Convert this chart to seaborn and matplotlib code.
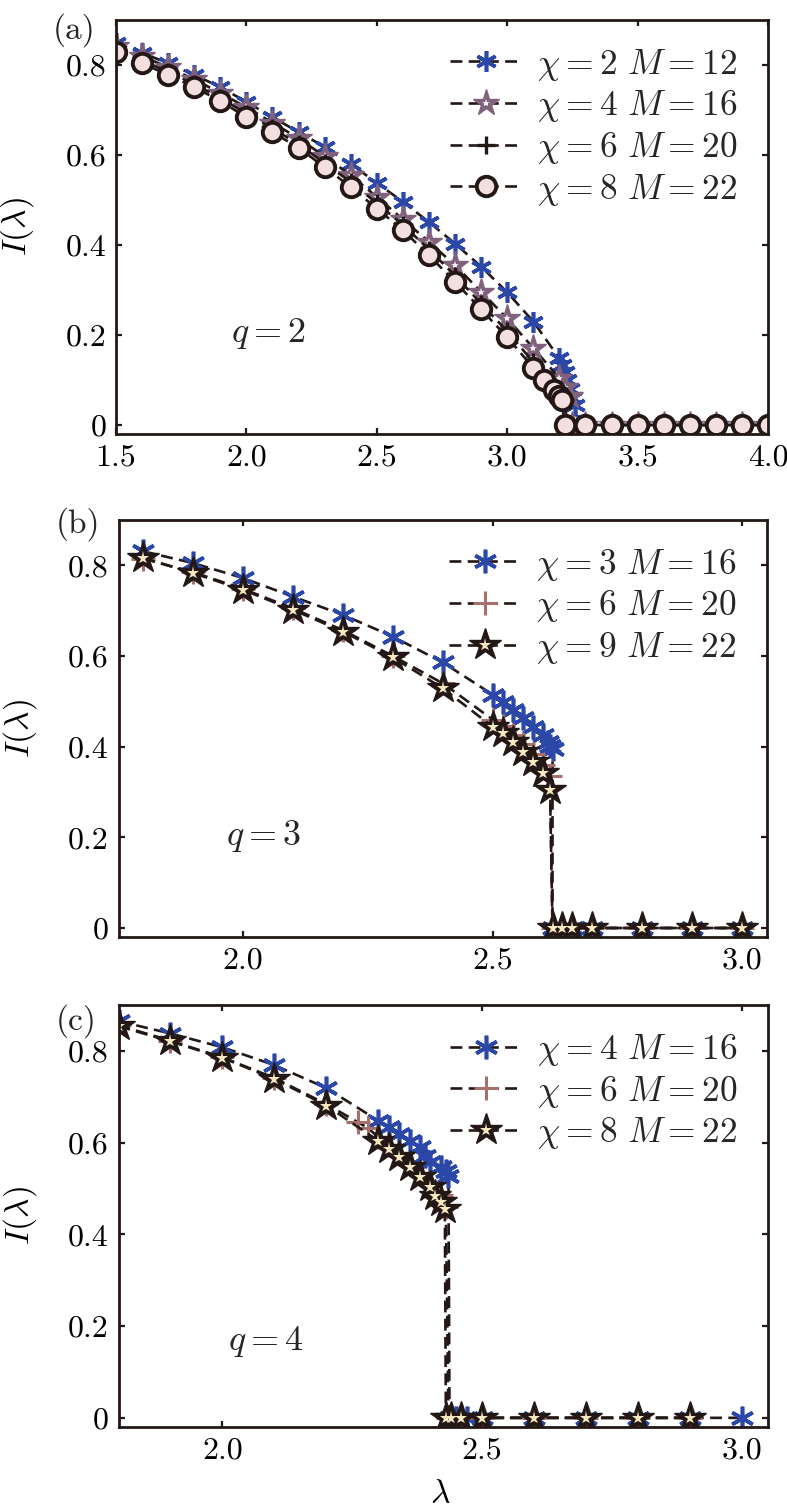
import numpy as np
import pandas as pd
import matplotlib
matplotlib.use("Agg")
import matplotlib.pyplot as plt
from matplotlib.legend_handler import HandlerTuple
import seaborn as sns

# ---------------- data ----------------
# panel (a), q = 2
lam_a = [1.5, 1.6, 1.7, 1.8, 1.9, 2.0, 2.1, 2.2, 2.3, 2.4, 2.5, 2.6, 2.7, 2.8, 2.9, 3.0, 3.1]
zero_a = [3.3, 3.4, 3.5, 3.6, 3.7, 3.8, 3.9, 4.0]

a_chi2_x = lam_a + [3.2, 3.21, 3.22, 3.23, 3.24, 3.25, 3.26, 3.27] + zero_a
a_chi2_y = [0.849, 0.827, 0.804, 0.778, 0.751, 0.718, 0.684, 0.651, 0.618, 0.580,
            0.538, 0.496, 0.451, 0.403, 0.352, 0.295, 0.230,
            0.148, 0.133, 0.118, 0.100, 0.080, 0.060, 0.045, 0.0] + [0.0] * 8

a_chi4_x = lam_a + [3.2, 3.22, 3.24, 3.25] + zero_a
a_chi4_y = [0.842, 0.820, 0.795, 0.768, 0.738, 0.706, 0.672, 0.637, 0.597, 0.555,
            0.507, 0.457, 0.407, 0.355, 0.296, 0.237, 0.171,
            0.104, 0.085, 0.065, 0.0] + [0.0] * 8

a_chi6_x = lam_a + [3.15, 3.18, 3.2, 3.22, 3.23] + zero_a
a_chi6_y = [0.835, 0.810, 0.785, 0.757, 0.727, 0.692, 0.659, 0.624, 0.582, 0.540,
            0.493, 0.445, 0.390, 0.332, 0.270, 0.208, 0.140,
            0.105, 0.085, 0.070, 0.055, 0.0] + [0.0] * 8

a_chi8_x = lam_a + [3.14, 3.18, 3.2, 3.21, 3.22] + zero_a
a_chi8_y = [0.829, 0.804, 0.778, 0.751, 0.720, 0.684, 0.651, 0.616, 0.573, 0.529,
            0.481, 0.433, 0.377, 0.318, 0.257, 0.195, 0.127,
            0.100, 0.078, 0.064, 0.055, 0.0] + [0.0] * 8

# panel (b), q = 3
lam_b = [1.8, 1.9, 2.0, 2.1, 2.2, 2.3, 2.4]
zero_b = [2.62, 2.64, 2.66, 2.7, 2.8, 2.9, 3.0]

b_chi3_x = lam_b + [2.5, 2.52, 2.54, 2.56, 2.58, 2.6, 2.61, 2.615, 2.62] + [2.62, 2.64, 2.66, 2.7, 2.8, 2.9, 3.0]
b_chi3_y = [0.831, 0.805, 0.772, 0.731, 0.691, 0.643, 0.586,
            0.515, 0.499, 0.482, 0.464, 0.444, 0.425, 0.410, 0.402, 0.395] + [0.0] * 7

b_chi6_x = lam_b + [2.5, 2.52, 2.54, 2.56, 2.58, 2.6, 2.615] + zero_b
b_chi6_y = [0.815, 0.785, 0.748, 0.705, 0.657, 0.600, 0.540,
            0.460, 0.445, 0.425, 0.405, 0.385, 0.360, 0.335] + [0.0] * 7

b_chi9_x = lam_b + [2.5, 2.52, 2.54, 2.56, 2.58, 2.6, 2.615] + zero_b
b_chi9_y = [0.816, 0.783, 0.746, 0.702, 0.654, 0.597, 0.529,
            0.444, 0.431, 0.411, 0.389, 0.367, 0.343, 0.305] + [0.0] * 7

# panel (c), q = 4
lam_c = [1.8, 1.9, 2.0, 2.1, 2.2]

c_chi4_x = lam_c + [2.3, 2.32, 2.34, 2.36, 2.38, 2.39, 2.4, 2.42, 2.43, 2.435] + \
    [2.437, 2.44, 2.45, 2.47, 2.5, 2.6, 2.7, 2.8, 2.9, 3.0]
c_chi4_y = [0.865, 0.838, 0.808, 0.769, 0.719,
            0.648, 0.635, 0.619, 0.604, 0.591, 0.571, 0.558, 0.547, 0.538, 0.527] + [0.0] * 10

c_chi6_x = lam_c + [2.26, 2.28, 2.3, 2.32, 2.34, 2.36, 2.38, 2.4, 2.42, 2.43] + \
    [2.435, 2.44, 2.46, 2.5, 2.6, 2.7, 2.8, 2.9]
c_chi6_y = [0.856, 0.822, 0.786, 0.741, 0.684,
            0.645, 0.632, 0.612, 0.595, 0.575, 0.555, 0.533, 0.510, 0.485, 0.460] + [0.0] * 8

c_chi8_x = lam_c + [2.3, 2.32, 2.34, 2.36, 2.38, 2.4, 2.41, 2.42, 2.428] + \
    [2.43, 2.44, 2.46, 2.5, 2.6, 2.7, 2.8, 2.9]
c_chi8_y = [0.854, 0.821, 0.785, 0.739, 0.681,
            0.604, 0.586, 0.568, 0.546, 0.525, 0.503, 0.484, 0.470, 0.455] + [0.0] * 8

# ---------------- style ----------------
sns.set_theme(style="ticks")
plt.rcParams["font.family"] = ["cmr10", "DejaVu Serif"]
plt.rcParams["mathtext.fontset"] = "cm"
plt.rcParams["axes.formatter.use_mathtext"] = True

DARK = "#231815"
BLUE = "#2b48a8"
MAUVE = "#80627d"
ROSE = "#a8706c"
PINK = "#f3dfdf"
CREAM = "#f8e8c0"

asterisk = (6, 2, 0)
line_kw = dict(color=DARK, linestyle=(0, (4.5, 2.4)), linewidth=1.9)

fig = plt.figure(figsize=(7.87, 15.08), dpi=100)
ax_a = fig.add_axes([0.1474, 0.7122, 0.8285, 0.2745])
ax_b = fig.add_axes([0.1506, 0.3786, 0.8240, 0.2765])
ax_c = fig.add_axes([0.1506, 0.0537, 0.8253, 0.2798])


def draw(ax, x, y, **mk):
    df = pd.DataFrame({"lam": x, "I": y})
    sns.lineplot(data=df, x="lam", y="I", ax=ax, estimator=None, sort=False,
                 **line_kw, **mk)
    return ax.lines[-1]


def draw_star(ax, x, y, body, core, size, core_size):
    # filled star with a small light star in its centre
    h1 = draw(ax, x, y, marker="*", ms=size, mec=body, mfc=body, mew=1.0)
    df = pd.DataFrame({"lam": x, "I": y})
    sns.lineplot(data=df, x="lam", y="I", ax=ax, estimator=None, sort=False,
                 linestyle="", marker="*", ms=core_size, mfc=core, mec=core, mew=0)
    return (h1, ax.lines[-1])


# (a)
ha = [draw(ax_a, a_chi2_x, a_chi2_y, marker=asterisk, ms=15, mec=BLUE, mfc=BLUE, mew=2.6),
      draw_star(ax_a, a_chi4_x, a_chi4_y, MAUVE, "#f6eef4", 20, 6),
      draw(ax_a, a_chi6_x, a_chi6_y, marker="+", ms=13, mec=DARK, mfc=DARK, mew=2.4),
      draw(ax_a, a_chi8_x, a_chi8_y, marker="o", ms=14, mec=DARK, mfc=PINK, mew=2.8)]
la = [r"$\chi=2\ M=12$", r"$\chi=4\ M=16$", r"$\chi=6\ M=20$", r"$\chi=8\ M=22$"]

# (b)
hb = [draw(ax_b, b_chi3_x, b_chi3_y, marker=asterisk, ms=17, mec=BLUE, mfc=BLUE, mew=2.6),
      draw(ax_b, b_chi6_x, b_chi6_y, marker="+", ms=17, mec=ROSE, mfc=ROSE, mew=2.2),
      draw_star(ax_b, b_chi9_x, b_chi9_y, DARK, CREAM, 24, 9.5)]
lb = [r"$\chi=3\ M=16$", r"$\chi=6\ M=20$", r"$\chi=9\ M=22$"]

# (c)
hc = [draw(ax_c, c_chi4_x, c_chi4_y, marker=asterisk, ms=17, mec=BLUE, mfc=BLUE, mew=2.6),
      draw(ax_c, c_chi6_x, c_chi6_y, marker="+", ms=17, mec=ROSE, mfc=ROSE, mew=2.2),
      draw_star(ax_c, c_chi8_x, c_chi8_y, DARK, CREAM, 24, 9.5)]
lc = [r"$\chi=4\ M=16$", r"$\chi=6\ M=20$", r"$\chi=8\ M=22$"]

# axes cosmetics
yt = [0, 0.2, 0.4, 0.6, 0.8]
ytl = ["0", "0.2", "0.4", "0.6", "0.8"]
ax_a.set_xlim(1.5, 4.0)
ax_a.set_xticks([1.5, 2.0, 2.5, 3.0, 3.5, 4.0], labels=["1.5", "2.0", "2.5", "3.0", "3.5", "4.0"])
ax_b.set_xlim(1.75, 3.05)
ax_b.set_xticks([2.0, 2.5, 3.0], labels=["2.0", "2.5", "3.0"])
ax_c.set_xlim(1.8, 3.05)
ax_c.set_xticks([2.0, 2.5, 3.0], labels=["2.0", "2.5", "3.0"])

panels = [(ax_a, ha, la, "(a)", 0.975, r"$q=2$", 1.94, 0.204),
          (ax_b, hb, lb, "(b)", 0.99, r"$q=3$", 1.965, 0.203),
          (ax_c, hc, lc, "(c)", 0.962, r"$q=4$", 2.01, 0.167)]

for ax, hs, ls, tag, tag_y, qtxt, qx, qy in panels:
    ax.set_ylim(-0.02, 0.9)
    ax.set_yticks(yt, labels=ytl)
    for s in ax.spines.values():
        s.set_color(DARK)
        s.set_linewidth(2.0)
        s.set_visible(True)
    ax.tick_params(direction="in", length=4, width=1.6, color=DARK,
                   top=True, right=True, labelsize=23, labelcolor="black", pad=7)
    ax.set_ylabel(r"$I(\lambda)$", fontsize=24, color="black")
    ax.yaxis.set_label_coords(-0.122, 0.5)
    ax.set_xlabel("")
    ax.text(-0.097, tag_y, tag, transform=ax.transAxes, fontsize=24,
            ha="left", va="center")
    ax.text(qx, qy, qtxt, fontsize=26, ha="left", va="center")
    ax.legend(hs, ls, loc="upper right", bbox_to_anchor=(0.975, 0.97), frameon=False,
              fontsize=25.5, numpoints=1, handlelength=2.0, handletextpad=0.45,
              labelspacing=0.16, borderaxespad=0.0,
              handler_map={tuple: HandlerTuple(ndivide=1)})
    ax.grid(False)

ax_c.set_xlabel(r"$\lambda$", fontsize=24, color="black")
ax_c.xaxis.set_label_coords(0.495, -0.125)

fig.savefig("out.png", dpi=100)
